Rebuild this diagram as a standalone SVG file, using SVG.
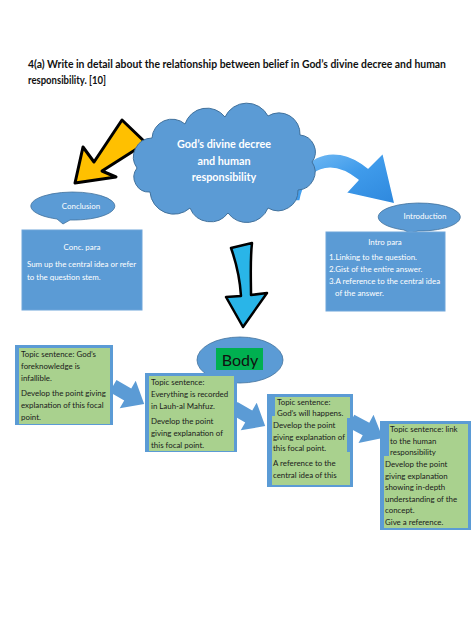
<svg xmlns="http://www.w3.org/2000/svg" width="474" height="632" viewBox="0 0 474 632">
<style>
.t{font-family:Lato,"Liberation Sans",sans-serif}
.title{font-family:Lato,"Liberation Sans",sans-serif;font-weight:bold;font-size:10.5px;fill:#111}
.w{font-family:Lato,"Liberation Sans",sans-serif;font-size:7.9px;fill:#fff}
.b{font-family:Lato,"Liberation Sans",sans-serif;font-size:7.9px;fill:#1a1a1a}
.blue{fill:#5B9BD5}
.green{fill:#A9D18E}
.box{fill:#5B9BD5;stroke:#6FA5DA;stroke-width:1}
</style>
<defs>
<path id="barrow" d="M0,-7 L17,-7 L17,-16 L36,0 L17,16 L17,7 L0,7 Z"/>
<linearGradient id="cg" x1="0" y1="0" x2="1" y2="1">
<stop offset="0" stop-color="#7CC0F5"/>
<stop offset="0.5" stop-color="#3F9BEB"/>
<stop offset="1" stop-color="#2E88DD"/>
</linearGradient>
</defs>
<rect width="474" height="632" fill="#fff"/>
<g id="title">
<text class="title" x="28" y="68" textLength="418" lengthAdjust="spacingAndGlyphs">4(a) Write in detail about the relationship between belief in God’s divine decree and human</text>
<text class="title" x="28" y="84" textLength="78" lengthAdjust="spacingAndGlyphs">responsibility. [10]</text>
</g>
<g id="connectors">
<path id="yellow-arrow" d="M122,120 L146,143 L102,171 L116,177 L75,183 L83,147 L94,162 Z" fill="#FFC000" stroke="#000" stroke-width="3" stroke-linejoin="round"/>
<path id="curved-arrow" d="M289,201 C295,160 330,137 368,168 L383,153 L395,204 L346,193 L358,180 C330,158 306,168 300,201 Z" fill="url(#cg)" stroke="#fff" stroke-width="1.5" stroke-linejoin="round"/>
<path id="down-arrow" d="M231,248 L252,243 C250,260 251,278 251,295 L267,293 L243,327 L226,297 L241,296 C240,280 236,262 231,248 Z" fill="#29B5E8" stroke="#000" stroke-width="2.5" stroke-linejoin="round"/>
<use href="#barrow" class="blue" transform="translate(113,386) rotate(30)"/>
<use href="#barrow" class="blue" transform="translate(234,408) rotate(30)"/>
<use href="#barrow" class="blue" transform="translate(351,421) rotate(28)"/>
</g>
<g id="cloud">
<path d="M150,192 A15,15 0 0 1 137,168 A19,19 0 0 1 152,138 A20,20 0 0 1 185,124 A23,23 0 0 1 225,117 A24,24 0 0 1 268,116 A21,21 0 0 1 300,135 A17,17 0 0 1 312,162 A18,18 0 0 1 298,190 A20,20 0 0 1 268,208 A23,23 0 0 1 228,213 A22,22 0 0 1 190,208 A24,24 0 0 1 150,192 Z" fill="#5B9BD5" stroke="#41719C" stroke-width="1"/>
<g class="t" font-weight="bold" font-size="10.8" fill="#fff" text-anchor="middle">
<text x="224" y="148">God’s divine decree</text>
<text x="224" y="165">and human</text>
<text x="224" y="181">responsibility</text>
</g>
</g>
<g id="conclusion">
<path d="M57,219 A42,14 0 1 1 70,220 L63,224 Z" fill="#5B9BD5" stroke="#41719C" stroke-width="0.8"/>
<text class="w" x="81" y="209" text-anchor="middle">Conclusion</text>
</g>
<g id="conc-para">
<rect class="box" x="22" y="230" width="120" height="80"/>
<text class="w" x="82" y="250" text-anchor="middle">Conc. para</text>
<text class="w" x="27" y="267">Sum up the central idea or refer</text>
<text class="w" x="27" y="280">to the question stem.</text>
</g>
<g id="introduction">
<path d="M404,230 A41,14 0 1 1 418,231 L410,233 Z" fill="#5B9BD5" stroke="#41719C" stroke-width="0.8"/>
<text class="w" x="425" y="219" text-anchor="middle">Introduction</text>
</g>
<g id="intro-para">
<rect class="box" x="326" y="232" width="119" height="79"/>
<text class="w" x="385" y="245" text-anchor="middle">Intro para</text>
<text class="w" x="329" y="260">1.Linking to the question.</text>
<text class="w" x="329" y="272">2.Gist of the entire answer.</text>
<text class="w" x="329" y="284">3.A reference to the central idea</text>
<text class="w" x="335" y="296">of the answer.</text>
</g>
<g id="body">
<ellipse cx="240" cy="360" rx="43" ry="23" fill="#5B9BD5" stroke="#41719C" stroke-width="0.8"/>
<rect x="216" y="348" width="47" height="22" fill="#00B050"/>
<text class="t" x="240" y="366" font-size="16" fill="#111" text-anchor="middle">Body</text>
</g>
<g id="point1">
<rect class="blue" x="15" y="345" width="98" height="80"/>
<rect class="green" x="19" y="348" width="91" height="76"/>
<text class="b" x="21" y="357">Topic sentence: God’s</text>
<text class="b" x="21" y="369">foreknowledge is</text>
<text class="b" x="21" y="381">infallible.</text>
<text class="b" x="21" y="396">Develop the point giving</text>
<text class="b" x="21" y="408">explanation of this focal</text>
<text class="b" x="21" y="420">point.</text>
</g>
<g id="point2">
<rect class="blue" x="145" y="373" width="92" height="79"/>
<rect class="green" x="149" y="376" width="85" height="75"/>
<text class="b" x="151" y="385">Topic sentence:</text>
<text class="b" x="151" y="397">Everything is recorded</text>
<text class="b" x="151" y="409">in Lauh-al Mahfuz.</text>
<text class="b" x="151" y="424">Develop the point</text>
<text class="b" x="151" y="436">giving explanation of</text>
<text class="b" x="151" y="448">this focal point.</text>
</g>
<g id="point3">
<rect class="blue" x="267" y="394" width="86" height="93"/>
<rect class="green" x="272" y="397" width="78" height="88"/>
<rect class="blue" x="267" y="394" width="8" height="22"/>
<rect class="blue" x="347" y="418" width="6" height="34"/>
<text class="b" x="277" y="405">Topic sentence:</text>
<text class="b" x="277" y="416">God’s will happens.</text>
<text class="b" x="273" y="428">Develop the point</text>
<text class="b" x="273" y="440">giving explanation of</text>
<text class="b" x="273" y="451">this focal point.</text>
<text class="b" x="273" y="466">A reference to the</text>
<text class="b" x="273" y="478">central idea of this</text>
</g>
<g id="point4">
<rect class="blue" x="380" y="421" width="91" height="109"/>
<rect class="green" x="384" y="424" width="84" height="104"/>
<rect class="blue" x="380" y="421" width="9" height="35"/>
<text class="b" x="390" y="432">Topic sentence: link</text>
<text class="b" x="390" y="444">to the human</text>
<text class="b" x="390" y="455">responsibility</text>
<text class="b" x="385" y="467">Develop the point</text>
<text class="b" x="385" y="479">giving explanation</text>
<text class="b" x="385" y="490">showing in-depth</text>
<text class="b" x="385" y="502">understanding of the</text>
<text class="b" x="385" y="513">concept.</text>
<text class="b" x="385" y="525">Give a reference.</text>
</g>
</svg>
